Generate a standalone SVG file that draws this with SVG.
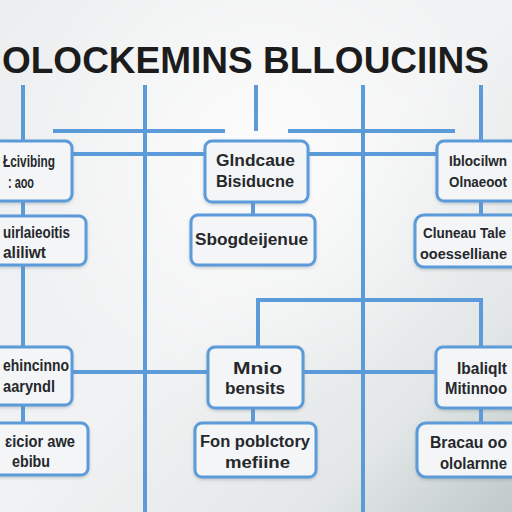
<svg xmlns="http://www.w3.org/2000/svg" width="512" height="512" viewBox="0 0 512 512">
<defs>
<linearGradient id="bg" x1="0" y1="0" x2="1" y2="1">
<stop offset="0" stop-color="#eceeef"/>
<stop offset="0.5" stop-color="#f1f2f3"/>
<stop offset="0.8" stop-color="#e3e7e7"/>
<stop offset="1" stop-color="#bfcac8"/>
</linearGradient>
<radialGradient id="glow" cx="0.5" cy="0.3" r="0.5">
<stop offset="0" stop-color="#ffffff" stop-opacity="0.8"/>
<stop offset="1" stop-color="#ffffff" stop-opacity="0"/>
</radialGradient>
<filter id="sh" x="-10%" y="-10%" width="120%" height="130%">
<feDropShadow dx="0" dy="1.5" stdDeviation="1.5" flood-color="#6c7a86" flood-opacity="0.35"/>
</filter>
</defs>
<style>
.ln{stroke:#5c9bd9;stroke-width:4;fill:none;stroke-linecap:butt}
.bx{fill:#f3f5f7;stroke:#5c9bd9;stroke-width:3;filter:url(#sh)}
.t{font-family:"Liberation Sans",Arial,sans-serif;font-weight:bold;font-size:16px;fill:#26282b}
.s{font-size:14px}
.title{font-family:"Liberation Sans",Arial,sans-serif;font-weight:bold;font-size:37px;fill:#1c1c1c}
</style>
<rect width="512" height="512" fill="url(#bg)"/>
<rect width="512" height="512" fill="url(#glow)"/>
<text class="title" x="2" y="73" textLength="487" lengthAdjust="spacingAndGlyphs">OLOCKEMINS BLLOUCIINS</text>
<g id="connectors">
<path class="ln" d="M23 85V141M23 201V216M23 265V347M23 405V423"/>
<path class="ln" d="M145 85V512M363 85V512M256 85V131"/>
<path class="ln" d="M481 85V141M481 201V215M481 300V347M481 408V423"/>
<path class="ln" d="M53 131H225M288 131H455"/>
<path class="ln" d="M72 154H205M308 154H437"/>
<path class="ln" d="M253 202V215M253 408V423"/>
<path class="ln" d="M256 300H483M258 298V347"/>
<path class="ln" d="M72 372H208M303 372H436"/>
</g>
<g id="n1"><rect class="bx" x="-8" y="141" width="80" height="60" rx="7"/>
<text class="t" x="3" y="167" textLength="52" lengthAdjust="spacingAndGlyphs">Łcivibing</text>
<text class="t" x="8" y="188" textLength="26" lengthAdjust="spacingAndGlyphs">: aoo</text></g>
<g id="n2"><rect class="bx" x="205" y="141" width="103" height="61" rx="7"/>
<text class="t" x="216" y="166" textLength="79" lengthAdjust="spacingAndGlyphs">Glndcaue</text>
<text class="t" x="216" y="187" textLength="78" lengthAdjust="spacingAndGlyphs">Bisiducne</text></g>
<g id="n3"><rect class="bx" x="437" y="141" width="85" height="60" rx="7"/>
<text class="t s" x="449" y="166" textLength="58" lengthAdjust="spacingAndGlyphs">Iblocilwn</text>
<text class="t s" x="449" y="187" textLength="58" lengthAdjust="spacingAndGlyphs">Olnaeoot</text></g>
<g id="n4"><rect class="bx" x="-8" y="216" width="94" height="49" rx="7"/>
<text class="t" x="3" y="238" textLength="67" lengthAdjust="spacingAndGlyphs">uirlaieoitis</text>
<text class="t" x="3" y="258" textLength="43" lengthAdjust="spacingAndGlyphs">aliliwt</text></g>
<g id="n5"><rect class="bx" x="191" y="215" width="124" height="50" rx="7"/>
<text class="t" x="195" y="245" textLength="113" lengthAdjust="spacingAndGlyphs">Sbogdeijenue</text></g>
<g id="n6"><rect class="bx" x="415" y="215" width="107" height="52" rx="9"/>
<text class="t s" x="423" y="238" textLength="83" lengthAdjust="spacingAndGlyphs">Cluneau Tale</text>
<text class="t s" x="420" y="259" textLength="87" lengthAdjust="spacingAndGlyphs">ooesselliane</text></g>
<g id="n7"><rect class="bx" x="-8" y="347" width="80" height="58" rx="7"/>
<text class="t" x="3" y="371" textLength="66" lengthAdjust="spacingAndGlyphs">ehincinno</text>
<text class="t" x="3" y="392" textLength="52" lengthAdjust="spacingAndGlyphs">aaryndl</text></g>
<g id="n8"><rect class="bx" x="208" y="347" width="95" height="61" rx="7"/>
<text class="t" x="233" y="374" textLength="49" lengthAdjust="spacingAndGlyphs">Mnio</text>
<text class="t" x="225" y="394" textLength="60" lengthAdjust="spacingAndGlyphs">bensits</text></g>
<g id="n9"><rect class="bx" x="436" y="347" width="86" height="61" rx="7"/>
<text class="t" x="457" y="374" textLength="50" lengthAdjust="spacingAndGlyphs">Ibaliqlt</text>
<text class="t" x="445" y="394" textLength="62" lengthAdjust="spacingAndGlyphs">Mitinnoo</text></g>
<g id="n10"><rect class="bx" x="-8" y="423" width="96" height="52" rx="7"/>
<text class="t" x="5" y="447" textLength="70" lengthAdjust="spacingAndGlyphs">ɛicior awe</text>
<text class="t" x="12" y="467" textLength="38" lengthAdjust="spacingAndGlyphs">ebibu</text></g>
<g id="n11"><rect class="bx" x="195" y="423" width="121" height="54" rx="7"/>
<text class="t" x="200" y="447" textLength="110" lengthAdjust="spacingAndGlyphs">Fon poblctory</text>
<text class="t" x="225" y="468" textLength="65" lengthAdjust="spacingAndGlyphs">mefiine</text></g>
<g id="n12"><rect class="bx" x="417" y="423" width="105" height="54" rx="9"/>
<text class="t" x="430" y="448" textLength="77" lengthAdjust="spacingAndGlyphs">Bracau oo</text>
<text class="t" x="440" y="469" textLength="67" lengthAdjust="spacingAndGlyphs">ololarnne</text></g>
</svg>
